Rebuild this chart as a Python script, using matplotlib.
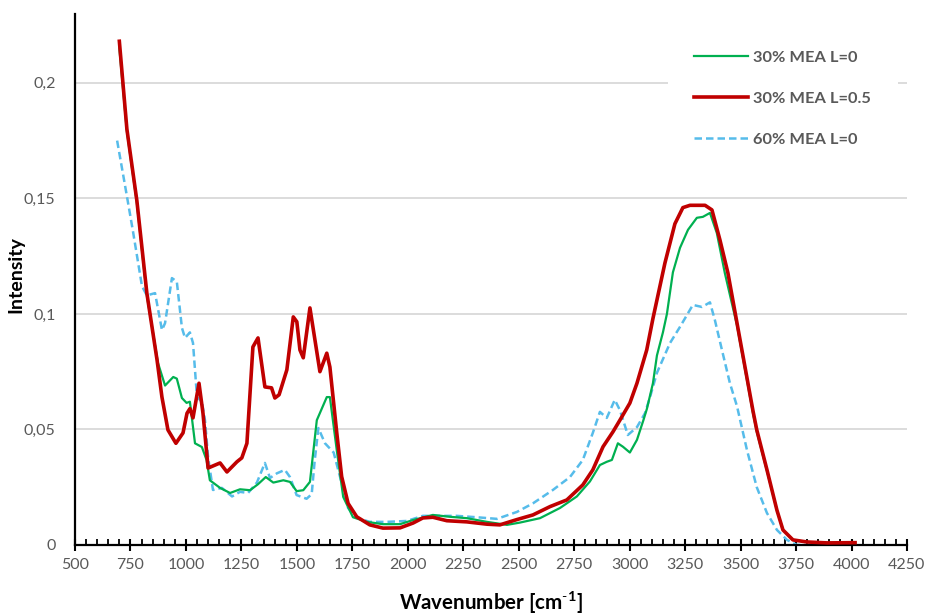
import matplotlib
matplotlib.use("Agg")
import matplotlib.pyplot as plt
from matplotlib.ticker import MultipleLocator, FuncFormatter

plt.rcParams['font.family'] = ['Lato', 'DejaVu Sans']
plt.rcParams['mathtext.fontset'] = 'custom'
plt.rcParams['mathtext.rm'] = 'Lato'
plt.rcParams['mathtext.bf'] = 'Lato:bold'

# 30% MEA L=0.5 (red)
wn_red = [700, 734, 779, 824, 870, 892, 919, 955, 987, 1005, 1018, 1032, 1059, 1077, 1100,
          1154, 1185, 1230, 1252, 1275, 1302, 1325, 1356, 1386, 1401, 1420, 1455, 1484, 1500,
          1514, 1529, 1559, 1604, 1635, 1649, 1680, 1702, 1731, 1770, 1829, 1888, 1965, 2024,
          2068, 2113, 2176, 2266, 2357, 2415, 2492, 2564, 2641, 2717, 2789, 2834, 2880, 2925,
          2956, 3001, 3033, 3077, 3105, 3159, 3204, 3240, 3272, 3340, 3371, 3407, 3443, 3484,
          3520, 3556, 3573, 3619, 3664, 3691, 3736, 3799, 3890, 4016]
int_red = [0.218, 0.180, 0.149, 0.109, 0.080, 0.064, 0.0498, 0.044, 0.0485, 0.057, 0.059, 0.055,
           0.070, 0.057, 0.0333, 0.0355, 0.0316, 0.036, 0.0377, 0.044, 0.0857, 0.0896, 0.0684,
           0.068, 0.0636, 0.065, 0.0758, 0.0987, 0.0966, 0.0844, 0.081, 0.1026, 0.075, 0.083,
           0.077, 0.0485, 0.0296, 0.018, 0.0122, 0.0087, 0.0073, 0.0074, 0.0095, 0.0117, 0.012,
           0.0105, 0.010, 0.009, 0.0087, 0.011, 0.013, 0.0166, 0.0195, 0.026, 0.0325, 0.0425,
           0.049, 0.054, 0.0614, 0.070, 0.0844, 0.0980, 0.122, 0.139, 0.146, 0.147, 0.147, 0.145,
           0.132, 0.1177, 0.096, 0.077, 0.058, 0.0498, 0.0325, 0.015, 0.0065, 0.0022, 0.0013,
           0.0009, 0.001]

# 30% MEA L=0 (green)
wn_green = [700, 734, 779, 824, 874, 906, 943, 959, 982, 1003, 1018, 1041, 1072, 1093, 1108,
            1154, 1199, 1244, 1289, 1325, 1360, 1394, 1439, 1469, 1499, 1529, 1559, 1590, 1635,
            1649, 1680, 1709, 1753, 1816, 1888, 1965, 2024, 2113, 2190, 2266, 2357, 2447, 2506,
            2596, 2686, 2762, 2821, 2866, 2897, 2920, 2947, 2970, 3001, 3033, 3062, 3078, 3105,
            3123, 3150, 3168, 3195, 3227, 3263, 3303, 3330, 3362, 3393, 3429, 3484, 3520, 3556,
            3573, 3619, 3664, 3691, 3736, 3799, 3890, 4016]
int_green = [0.215, 0.179, 0.148, 0.108, 0.0788, 0.069, 0.0727, 0.072, 0.0636, 0.0615, 0.062,
             0.044, 0.0424, 0.0368, 0.028, 0.0247, 0.0225, 0.0241, 0.0237, 0.0263, 0.0294, 0.027,
             0.028, 0.0273, 0.0233, 0.0237, 0.0273, 0.054, 0.064, 0.064, 0.041, 0.0208, 0.012,
             0.010, 0.009, 0.009, 0.0108, 0.013, 0.0122, 0.0116, 0.010, 0.0087, 0.0097, 0.0116,
             0.016, 0.021, 0.0275, 0.0346, 0.036, 0.0368, 0.044, 0.0425, 0.040, 0.0455, 0.054,
             0.059, 0.070, 0.082, 0.092, 0.100, 0.118, 0.1286, 0.1364, 0.1416, 0.142, 0.1437,
             0.135, 0.1177, 0.095, 0.076, 0.057, 0.049, 0.032, 0.015, 0.0065, 0.0022, 0.0013,
             0.0009, 0.001]

# 60% MEA L=0 (blue, dashed)
wn_blue = [690, 734, 761, 802, 824, 861, 892, 906, 937, 959, 982, 996, 1018, 1032, 1050, 1072,
           1086, 1100, 1122, 1162, 1208, 1244, 1280, 1320, 1356, 1379, 1410, 1446, 1469, 1499,
           1544, 1567, 1580, 1597, 1627, 1666, 1702, 1731, 1770, 1829, 1906, 1996, 2068, 2145,
           2221, 2311, 2402, 2492, 2564, 2654, 2731, 2789, 2834, 2866, 2897, 2933, 2956, 2992,
           3033, 3069, 3092, 3123, 3182, 3227, 3285, 3326, 3362, 3384, 3416, 3452, 3484, 3529,
           3573, 3619, 3664, 3709, 3754, 3844, 3934, 4016]
int_blue = [0.175, 0.151, 0.136, 0.112, 0.108, 0.109, 0.093, 0.096, 0.1155, 0.114, 0.094, 0.0896,
            0.092, 0.0874, 0.064, 0.062, 0.054, 0.038, 0.0238, 0.0247, 0.021, 0.023, 0.0225,
            0.027, 0.0355, 0.029, 0.031, 0.0325, 0.0294, 0.0216, 0.020, 0.022, 0.036, 0.0506,
            0.044, 0.040, 0.0268, 0.016, 0.0117, 0.010, 0.010, 0.0104, 0.0126, 0.0126, 0.0126,
            0.012, 0.0113, 0.0143, 0.018, 0.0238, 0.0294, 0.0368, 0.0485, 0.0576, 0.055, 0.0628,
            0.0584, 0.0476, 0.051, 0.057, 0.064, 0.0745, 0.0874, 0.0944, 0.1039, 0.103, 0.105,
            0.0974, 0.0844, 0.070, 0.060, 0.041, 0.025, 0.0138, 0.0065, 0.0022, 0.0, 0.0, 0.0,
            0.001]

grey = '#595959'

fig = plt.figure(figsize=(9.43, 6.16), dpi=100)
ax = fig.add_axes([0.0795, 0.1153, 0.8823, 0.862])

ax.plot(wn_green, int_green, color='#00B050', linewidth=1.6, label='30% MEA L=0', zorder=3)
ax.plot(wn_red, int_red, color='#C00000', linewidth=2.6, label='30% MEA L=0.5', zorder=4,
        solid_joinstyle='round')
ax.plot(wn_blue, int_blue, color='#56BCEA', linewidth=1.8, linestyle=(0, (3, 1.6)),
        label='60% MEA L=0', zorder=2)

ax.set_xlim(500, 4250)
ax.set_ylim(0, 0.2298)
ax.xaxis.set_major_locator(MultipleLocator(250))
ax.xaxis.set_minor_locator(MultipleLocator(50))
ax.yaxis.set_major_locator(MultipleLocator(0.05))


def komma(v, pos):
    s = ('%.2f' % v).rstrip('0').rstrip('.')
    return s.replace('.', ',')


ax.yaxis.set_major_formatter(FuncFormatter(komma))
ax.grid(axis='y', color='#D9D9D9', linewidth=1.3, zorder=0)
ax.set_axisbelow(True)

for s in ['top', 'right']:
    ax.spines[s].set_visible(False)
ax.spines['left'].set_linewidth(1.6)
ax.spines['bottom'].set_linewidth(1.6)
ax.tick_params(axis='x', which='major', direction='inout', length=9, width=1.5,
               labelsize=11.5, labelcolor=grey, pad=5)
ax.tick_params(axis='x', which='minor', direction='in', length=4, width=1.3)
ax.tick_params(axis='y', length=0, labelsize=11.5, labelcolor=grey, pad=14)

ax.set_xlabel('Wavenumber [cm$^{\\mathbf{\\text{-}1}}$]', fontsize=14.8, fontweight='bold')
ax.xaxis.set_label_coords(0.5, -0.083)
ax.set_ylabel('Intensity', fontsize=14, fontweight='bold')
ax.yaxis.set_label_coords(-0.061, 0.51)

leg = ax.legend(loc='center left', bbox_to_anchor=(0.713, 0.841), borderaxespad=0,
                fontsize=11.8, labelspacing=1.62, handlelength=3.3, handletextpad=0.3,
                borderpad=1.6, frameon=True, facecolor='white', edgecolor='none',
                framealpha=1, fancybox=False)
for t in leg.get_texts():
    t.set_color(grey)
    t.set_fontweight('bold')

fig.savefig('out.png', dpi=100)
